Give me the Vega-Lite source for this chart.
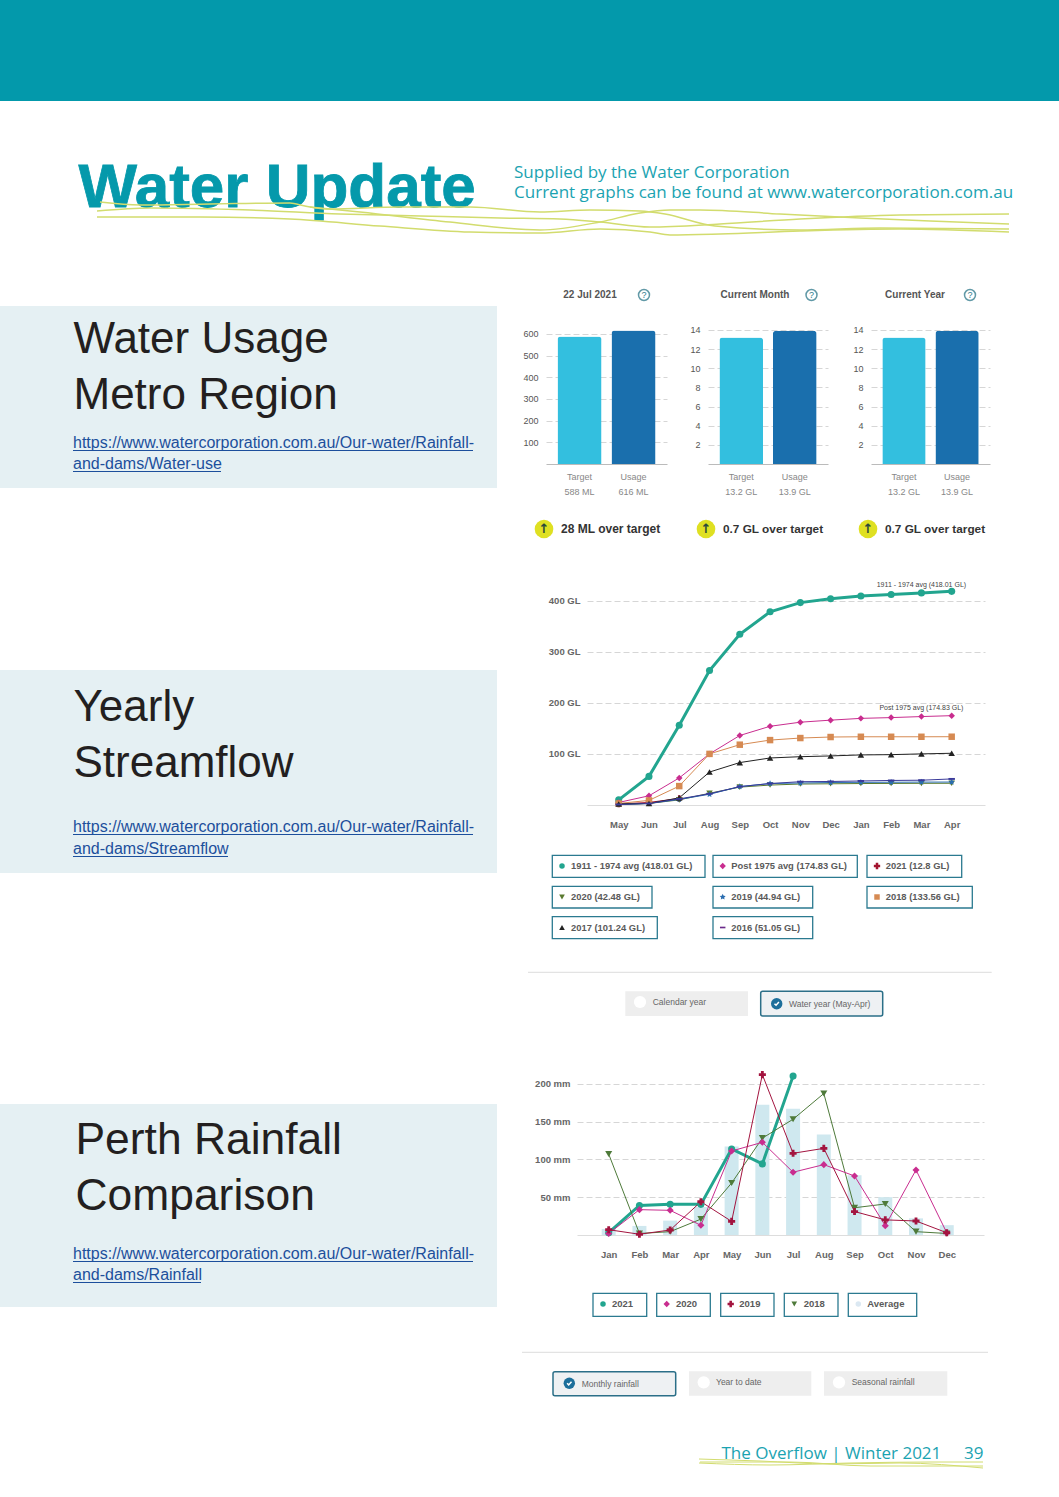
{"$schema":"https://vega.github.io/schema/vega-lite/v6.json","padding":0,"spacing":0,"background":"#ffffff","resolve":{"scale":{"color":"independent","shape":"independent"}},"config":{"font":"Liberation Sans","view":{"stroke":null},"axis":{"ticks":false,"domain":false,"labelFont":"Liberation Sans"},"axisY":{"grid":true,"gridDash":[6,3],"gridColor":"#d6d6d6"},"axisX":{"grid":false,"domain":true,"labelAngle":0}},"vconcat":[
{"width":1059,"height":101,"view":{"fill":"#0399ab"},"data":{"values":[{}]},"mark":{"type":"text","text":""}},
{"width":1059,"height":180,"data":{"values":[{}]},"layer":[
{"mark":{"type":"text","text":"Water Update","align":"left","baseline":"alphabetic","fontSize":62,"fontWeight":"bold","color":"#0599ab","stroke":"#0599ab","strokeWidth":0.8},"encoding":{"x":{"datum":78.5,"scale":{"domain":[0,1059]},"axis":null},"y":{"datum":207,"scale":{"domain":[281,101]},"axis":null}}},
{"data":{"values":[
{"strand":"a","x":100,"y":202},{"strand":"a","x":140,"y":205},{"strand":"a","x":210,"y":204},{"strand":"a","x":290,"y":203},{"strand":"a","x":305,"y":206},{"strand":"a","x":330,"y":209},{"strand":"a","x":400,"y":207},{"strand":"a","x":470,"y":207},{"strand":"a","x":540,"y":212},{"strand":"a","x":590,"y":210},{"strand":"a","x":640,"y":211},{"strand":"a","x":665,"y":214},{"strand":"a","x":715,"y":226},{"strand":"a","x":800,"y":230},{"strand":"a","x":880,"y":228},{"strand":"a","x":1009,"y":229},
{"strand":"b","x":97,"y":211},{"strand":"b","x":150,"y":208},{"strand":"b","x":250,"y":210},{"strand":"b","x":340,"y":214},{"strand":"b","x":420,"y":216},{"strand":"b","x":500,"y":218},{"strand":"b","x":560,"y":219},{"strand":"b","x":600,"y":222},{"strand":"b","x":650,"y":227},{"strand":"b","x":720,"y":224},{"strand":"b","x":800,"y":219},{"strand":"b","x":900,"y":215},{"strand":"b","x":1009,"y":214},
{"strand":"c","x":97,"y":217},{"strand":"c","x":200,"y":217},{"strand":"c","x":290,"y":219},{"strand":"c","x":380,"y":226},{"strand":"c","x":470,"y":232},{"strand":"c","x":540,"y":233},{"strand":"c","x":600,"y":229},{"strand":"c","x":650,"y":232},{"strand":"c","x":670,"y":235},{"strand":"c","x":720,"y":234},{"strand":"c","x":800,"y":231},{"strand":"c","x":900,"y":229},{"strand":"c","x":1009,"y":232},
{"strand":"d","x":310,"y":207},{"strand":"d","x":360,"y":212},{"strand":"d","x":450,"y":222},{"strand":"d","x":540,"y":230},{"strand":"d","x":600,"y":222},{"strand":"d","x":640,"y":213},{"strand":"d","x":670,"y":210},{"strand":"d","x":700,"y":210},{"strand":"d","x":780,"y":214},{"strand":"d","x":860,"y":218},{"strand":"d","x":930,"y":221},{"strand":"d","x":1009,"y":224}]},
"mark":{"type":"line","color":"#d2dc6e","strokeWidth":1.5,"interpolate":"monotone"},"encoding":{"x":{"field":"x","type":"quantitative","scale":{"domain":[0,1059]},"axis":null},"y":{"field":"y","type":"quantitative","scale":{"domain":[281,101]},"axis":null},"detail":{"field":"strand"}}},
{"mark":{"type":"text","text":["Supplied by the Water Corporation","Current graphs can be found at www.watercorporation.com.au"],"lineHeight":20,"align":"left","baseline":"middle","font":"Open Sans","fontSize":17.05,"color":"#1ba3b1"},"encoding":{"x":{"datum":514,"scale":{"domain":[0,1059]},"axis":null},"y":{"datum":172.5,"scale":{"domain":[281,101]},"axis":null}}}]},
{"resolve":{"scale":{"color":"independent","shape":"independent"}},"hconcat":[
{"width":497,"height":1216,"data":{"values":[{}]},"layer":[
{"mark":{"type":"rect","fill":"#e5f0f3"},"encoding":{"x":{"datum":0,"scale":{"domain":[0,497]},"axis":null},"x2":{"datum":497},"y":{"datum":306,"scale":{"domain":[1497,281]},"axis":null},"y2":{"datum":488}}},
{"mark":{"type":"rect","fill":"#e5f0f3"},"encoding":{"x":{"datum":0,"scale":{"domain":[0,497]},"axis":null},"x2":{"datum":497},"y":{"datum":670,"scale":{"domain":[1497,281]},"axis":null},"y2":{"datum":873}}},
{"mark":{"type":"rect","fill":"#e5f0f3"},"encoding":{"x":{"datum":0,"scale":{"domain":[0,497]},"axis":null},"x2":{"datum":497},"y":{"datum":1104,"scale":{"domain":[1497,281]},"axis":null},"y2":{"datum":1307}}},
{"mark":{"type":"text","text":"Water Usage","align":"left","baseline":"middle","fontSize":44,"color":"#231f20"},"encoding":{"x":{"datum":73.5,"scale":{"domain":[0,497]},"axis":null},"y":{"datum":340,"scale":{"domain":[1497,281]},"axis":null}}},
{"mark":{"type":"text","text":"Metro Region","align":"left","baseline":"middle","fontSize":44,"color":"#231f20"},"encoding":{"x":{"datum":73.5,"scale":{"domain":[0,497]},"axis":null},"y":{"datum":396,"scale":{"domain":[1497,281]},"axis":null}}},
{"mark":{"type":"text","text":"https://www.watercorporation.com.au/Our-water/Rainfall-","align":"left","baseline":"middle","fontSize":16,"color":"#1c4f9c"},"encoding":{"x":{"datum":73,"scale":{"domain":[0,497]},"axis":null},"y":{"datum":443,"scale":{"domain":[1497,281]},"axis":null}}},
{"mark":{"type":"text","text":"and-dams/Water-use","align":"left","baseline":"middle","fontSize":16,"color":"#1c4f9c"},"encoding":{"x":{"datum":73,"scale":{"domain":[0,497]},"axis":null},"y":{"datum":464,"scale":{"domain":[1497,281]},"axis":null}}},
{"mark":{"type":"rule","color":"#1c4f9c","strokeWidth":1},"encoding":{"x":{"datum":73,"scale":{"domain":[0,497]},"axis":null},"x2":{"datum":473},"y":{"datum":450.5,"scale":{"domain":[1497,281]},"axis":null}}},
{"mark":{"type":"rule","color":"#1c4f9c","strokeWidth":1},"encoding":{"x":{"datum":73,"scale":{"domain":[0,497]},"axis":null},"x2":{"datum":221},"y":{"datum":471.5,"scale":{"domain":[1497,281]},"axis":null}}},
{"mark":{"type":"text","text":"Yearly","align":"left","baseline":"middle","fontSize":44,"color":"#231f20"},"encoding":{"x":{"datum":73.5,"scale":{"domain":[0,497]},"axis":null},"y":{"datum":708,"scale":{"domain":[1497,281]},"axis":null}}},
{"mark":{"type":"text","text":"Streamflow","align":"left","baseline":"middle","fontSize":44,"color":"#231f20"},"encoding":{"x":{"datum":73.5,"scale":{"domain":[0,497]},"axis":null},"y":{"datum":764,"scale":{"domain":[1497,281]},"axis":null}}},
{"mark":{"type":"text","text":"https://www.watercorporation.com.au/Our-water/Rainfall-","align":"left","baseline":"middle","fontSize":16,"color":"#1c4f9c"},"encoding":{"x":{"datum":73,"scale":{"domain":[0,497]},"axis":null},"y":{"datum":827,"scale":{"domain":[1497,281]},"axis":null}}},
{"mark":{"type":"text","text":"and-dams/Streamflow","align":"left","baseline":"middle","fontSize":16,"color":"#1c4f9c"},"encoding":{"x":{"datum":73,"scale":{"domain":[0,497]},"axis":null},"y":{"datum":849,"scale":{"domain":[1497,281]},"axis":null}}},
{"mark":{"type":"rule","color":"#1c4f9c","strokeWidth":1},"encoding":{"x":{"datum":73,"scale":{"domain":[0,497]},"axis":null},"x2":{"datum":473},"y":{"datum":834.5,"scale":{"domain":[1497,281]},"axis":null}}},
{"mark":{"type":"rule","color":"#1c4f9c","strokeWidth":1},"encoding":{"x":{"datum":73,"scale":{"domain":[0,497]},"axis":null},"x2":{"datum":228},"y":{"datum":856.5,"scale":{"domain":[1497,281]},"axis":null}}},
{"mark":{"type":"text","text":"Perth Rainfall","align":"left","baseline":"middle","fontSize":44.4,"color":"#231f20"},"encoding":{"x":{"datum":75.5,"scale":{"domain":[0,497]},"axis":null},"y":{"datum":1141,"scale":{"domain":[1497,281]},"axis":null}}},
{"mark":{"type":"text","text":"Comparison","align":"left","baseline":"middle","fontSize":44.4,"color":"#231f20"},"encoding":{"x":{"datum":75.5,"scale":{"domain":[0,497]},"axis":null},"y":{"datum":1197,"scale":{"domain":[1497,281]},"axis":null}}},
{"mark":{"type":"text","text":"https://www.watercorporation.com.au/Our-water/Rainfall-","align":"left","baseline":"middle","fontSize":16,"color":"#1c4f9c"},"encoding":{"x":{"datum":73,"scale":{"domain":[0,497]},"axis":null},"y":{"datum":1254,"scale":{"domain":[1497,281]},"axis":null}}},
{"mark":{"type":"text","text":"and-dams/Rainfall","align":"left","baseline":"middle","fontSize":16,"color":"#1c4f9c"},"encoding":{"x":{"datum":73,"scale":{"domain":[0,497]},"axis":null},"y":{"datum":1275,"scale":{"domain":[1497,281]},"axis":null}}},
{"mark":{"type":"rule","color":"#1c4f9c","strokeWidth":1},"encoding":{"x":{"datum":73,"scale":{"domain":[0,497]},"axis":null},"x2":{"datum":473},"y":{"datum":1261.5,"scale":{"domain":[1497,281]},"axis":null}}},
{"mark":{"type":"rule","color":"#1c4f9c","strokeWidth":1},"encoding":{"x":{"datum":73,"scale":{"domain":[0,497]},"axis":null},"x2":{"datum":201},"y":{"datum":1282.5,"scale":{"domain":[1497,281]},"axis":null}}}]},
{"resolve":{"scale":{"color":"independent","shape":"independent"}},"vconcat":[
{"width":562,"height":39,"data":{"values":[{}]},"layer":[
{"mark":{"type":"text","text":"22 Jul 2021","fontSize":10,"fontWeight":"bold","color":"#555555","baseline":"middle"},"encoding":{"x":{"datum":590,"scale":{"domain":[497,1059]},"axis":null},"y":{"datum":294.5,"scale":{"domain":[320,281]},"axis":null}}},
{"mark":{"type":"text","text":"Current Month","fontSize":10,"fontWeight":"bold","color":"#555555","baseline":"middle"},"encoding":{"x":{"datum":755,"scale":{"domain":[497,1059]},"axis":null},"y":{"datum":294.5,"scale":{"domain":[320,281]},"axis":null}}},
{"mark":{"type":"text","text":"Current Year","fontSize":10,"fontWeight":"bold","color":"#555555","baseline":"middle"},"encoding":{"x":{"datum":915,"scale":{"domain":[497,1059]},"axis":null},"y":{"datum":294.5,"scale":{"domain":[320,281]},"axis":null}}},
{"mark":{"type":"point","shape":"circle","size":120,"stroke":"#1f6f82","strokeWidth":1.5,"fill":"#ffffff"},"encoding":{"x":{"datum":644,"scale":{"domain":[497,1059]},"axis":null},"y":{"datum":295,"scale":{"domain":[320,281]},"axis":null}}},
{"mark":{"type":"point","shape":"circle","size":120,"stroke":"#1f6f82","strokeWidth":1.5,"fill":"#ffffff"},"encoding":{"x":{"datum":811.5,"scale":{"domain":[497,1059]},"axis":null},"y":{"datum":295,"scale":{"domain":[320,281]},"axis":null}}},
{"mark":{"type":"point","shape":"circle","size":120,"stroke":"#1f6f82","strokeWidth":1.5,"fill":"#ffffff"},"encoding":{"x":{"datum":970,"scale":{"domain":[497,1059]},"axis":null},"y":{"datum":295,"scale":{"domain":[320,281]},"axis":null}}},
{"mark":{"type":"text","text":"?","fontSize":9,"color":"#2d7b8c","baseline":"middle"},"encoding":{"x":{"datum":644,"scale":{"domain":[497,1059]},"axis":null},"y":{"datum":295,"scale":{"domain":[320,281]},"axis":null}}},
{"mark":{"type":"text","text":"?","fontSize":9,"color":"#2d7b8c","baseline":"middle"},"encoding":{"x":{"datum":811.5,"scale":{"domain":[497,1059]},"axis":null},"y":{"datum":295,"scale":{"domain":[320,281]},"axis":null}}},
{"mark":{"type":"text","text":"?","fontSize":9,"color":"#2d7b8c","baseline":"middle"},"encoding":{"x":{"datum":970,"scale":{"domain":[497,1059]},"axis":null},"y":{"datum":295,"scale":{"domain":[320,281]},"axis":null}}}]},
{"resolve":{"scale":{"color":"independent"}},"hconcat":[
{"width":49,"height":100,"data":{"values":[{}]},"mark":{"type":"text","text":""}},
{"width":121,"height":185,"data":{"values":[{"bar":"Target|588 ML","kind":"Target","value":588},{"bar":"Usage|616 ML","kind":"Usage","value":616}]},"mark":{"type":"bar","cornerRadiusTopLeft":3,"cornerRadiusTopRight":3},"encoding":{"x":{"field":"bar","type":"nominal","sort":null,"title":null,"scale":{"paddingInner":0.185,"paddingOuter":0.213},"axis":{"offset":-41,"labelExpr":"split(datum.label,'|')","labelLineHeight":15,"labelFontSize":9,"labelColor":"#888888","labelPadding":8,"domainColor":"#bbbbbb"}},"y":{"field":"value","type":"quantitative","title":null,"scale":{"domain":[0,664.6],"range":[144,0]},"axis":{"values":[100,200,300,400,500,600],"labelFontSize":9,"labelColor":"#555555","labelPadding":8}},"color":{"field":"kind","type":"nominal","scale":{"domain":["Target","Usage"],"range":["#33bfdf","#1a6fad"]},"legend":null}}},
{"width":41,"height":100,"data":{"values":[{}]},"mark":{"type":"text","text":""}},
{"width":120,"height":185,"data":{"values":[{"bar":"Target|13.2 GL","kind":"Target","value":13.2},{"bar":"Usage|13.9 GL","kind":"Usage","value":13.9}]},"mark":{"type":"bar","cornerRadiusTopLeft":3,"cornerRadiusTopRight":3},"encoding":{"x":{"field":"bar","type":"nominal","sort":null,"title":null,"scale":{"paddingInner":0.185,"paddingOuter":0.213},"axis":{"offset":-41,"labelExpr":"split(datum.label,'|')","labelLineHeight":15,"labelFontSize":9,"labelColor":"#888888","labelPadding":8,"domainColor":"#bbbbbb"}},"y":{"field":"value","type":"quantitative","title":null,"scale":{"domain":[0,15.03],"range":[144,0]},"axis":{"values":[2,4,6,8,10,12,14],"labelFontSize":9,"labelColor":"#555555","labelPadding":8}},"color":{"field":"kind","type":"nominal","scale":{"domain":["Target","Usage"],"range":["#33bfdf","#1a6fad"]},"legend":null}}},
{"width":43,"height":100,"data":{"values":[{}]},"mark":{"type":"text","text":""}},
{"width":119,"height":185,"data":{"values":[{"bar":"Target|13.2 GL","kind":"Target","value":13.2},{"bar":"Usage|13.9 GL","kind":"Usage","value":13.9}]},"mark":{"type":"bar","cornerRadiusTopLeft":3,"cornerRadiusTopRight":3},"encoding":{"x":{"field":"bar","type":"nominal","sort":null,"title":null,"scale":{"paddingInner":0.185,"paddingOuter":0.213},"axis":{"offset":-41,"labelExpr":"split(datum.label,'|')","labelLineHeight":15,"labelFontSize":9,"labelColor":"#888888","labelPadding":8,"domainColor":"#bbbbbb"}},"y":{"field":"value","type":"quantitative","title":null,"scale":{"domain":[0,15.03],"range":[144,0]},"axis":{"values":[2,4,6,8,10,12,14],"labelFontSize":9,"labelColor":"#555555","labelPadding":8}},"color":{"field":"kind","type":"nominal","scale":{"domain":["Target","Usage"],"range":["#33bfdf","#1a6fad"]},"legend":null}}}
],"spacing":0,"bounds":"flush"},
{"width":562,"height":70,"data":{"values":[{}]},"layer":[
{"mark":{"type":"point","shape":"circle","size":346,"filled":true,"color":"#dfe022","opacity":1},"encoding":{"x":{"datum":544,"scale":{"domain":[497,1059]},"axis":null},"y":{"datum":529,"scale":{"domain":[575,505]},"axis":null}}},
{"mark":{"type":"point","shape":"circle","size":346,"filled":true,"color":"#dfe022","opacity":1},"encoding":{"x":{"datum":706,"scale":{"domain":[497,1059]},"axis":null},"y":{"datum":529,"scale":{"domain":[575,505]},"axis":null}}},
{"mark":{"type":"point","shape":"circle","size":346,"filled":true,"color":"#dfe022","opacity":1},"encoding":{"x":{"datum":868,"scale":{"domain":[497,1059]},"axis":null},"y":{"datum":529,"scale":{"domain":[575,505]},"axis":null}}},
{"mark":{"type":"text","text":"↑","font":"DejaVu Sans","fontSize":13,"fontWeight":"bold","color":"#2b4a3a","baseline":"middle"},"encoding":{"x":{"datum":544,"scale":{"domain":[497,1059]},"axis":null},"y":{"datum":529,"scale":{"domain":[575,505]},"axis":null}}},
{"mark":{"type":"text","text":"↑","font":"DejaVu Sans","fontSize":13,"fontWeight":"bold","color":"#2b4a3a","baseline":"middle"},"encoding":{"x":{"datum":706,"scale":{"domain":[497,1059]},"axis":null},"y":{"datum":529,"scale":{"domain":[575,505]},"axis":null}}},
{"mark":{"type":"text","text":"↑","font":"DejaVu Sans","fontSize":13,"fontWeight":"bold","color":"#2b4a3a","baseline":"middle"},"encoding":{"x":{"datum":868,"scale":{"domain":[497,1059]},"axis":null},"y":{"datum":529,"scale":{"domain":[575,505]},"axis":null}}},
{"mark":{"type":"text","text":"28 ML over target","align":"left","baseline":"middle","fontSize":12,"fontWeight":"bold","color":"#333333"},"encoding":{"x":{"datum":561,"scale":{"domain":[497,1059]},"axis":null},"y":{"datum":529,"scale":{"domain":[575,505]},"axis":null}}},
{"mark":{"type":"text","text":"0.7 GL over target","align":"left","baseline":"middle","fontSize":11.8,"fontWeight":"bold","color":"#333333"},"encoding":{"x":{"datum":723,"scale":{"domain":[497,1059]},"axis":null},"y":{"datum":529,"scale":{"domain":[575,505]},"axis":null}}},
{"mark":{"type":"text","text":"0.7 GL over target","align":"left","baseline":"middle","fontSize":11.8,"fontWeight":"bold","color":"#333333"},"encoding":{"x":{"datum":885,"scale":{"domain":[497,1059]},"axis":null},"y":{"datum":529,"scale":{"domain":[575,505]},"axis":null}}}]},
{"resolve":{"scale":{"color":"independent","shape":"independent"}},"hconcat":[
{"width":90,"height":100,"data":{"values":[{}]},"mark":{"type":"text","text":""}},
{"width":398,"height":260,"data":{"values":[
{"month":"May","series":"1911 - 1974 avg","value":10},{"month":"Jun","series":"1911 - 1974 avg","value":56},{"month":"Jul","series":"1911 - 1974 avg","value":156},{"month":"Aug","series":"1911 - 1974 avg","value":263},{"month":"Sep","series":"1911 - 1974 avg","value":334},{"month":"Oct","series":"1911 - 1974 avg","value":378},{"month":"Nov","series":"1911 - 1974 avg","value":396},{"month":"Dec","series":"1911 - 1974 avg","value":403.5},{"month":"Jan","series":"1911 - 1974 avg","value":409},{"month":"Feb","series":"1911 - 1974 avg","value":412},{"month":"Mar","series":"1911 - 1974 avg","value":415},{"month":"Apr","series":"1911 - 1974 avg","value":418},
{"month":"May","series":"Post 1975 avg","value":5},{"month":"Jun","series":"Post 1975 avg","value":18},{"month":"Jul","series":"Post 1975 avg","value":53},{"month":"Aug","series":"Post 1975 avg","value":100},{"month":"Sep","series":"Post 1975 avg","value":136},{"month":"Oct","series":"Post 1975 avg","value":154},{"month":"Nov","series":"Post 1975 avg","value":162},{"month":"Dec","series":"Post 1975 avg","value":166},{"month":"Jan","series":"Post 1975 avg","value":169.5},{"month":"Feb","series":"Post 1975 avg","value":171},{"month":"Mar","series":"Post 1975 avg","value":173},{"month":"Apr","series":"Post 1975 avg","value":174.8},
{"month":"May","series":"2021","value":2},{"month":"Jun","series":"2021","value":5},{"month":"Jul","series":"2021","value":12.8},
{"month":"May","series":"2020","value":1},{"month":"Jun","series":"2020","value":3},{"month":"Jul","series":"2020","value":10},{"month":"Aug","series":"2020","value":23},{"month":"Sep","series":"2020","value":35},{"month":"Oct","series":"2020","value":39},{"month":"Nov","series":"2020","value":41},{"month":"Dec","series":"2020","value":41.5},{"month":"Jan","series":"2020","value":42},{"month":"Feb","series":"2020","value":42.2},{"month":"Mar","series":"2020","value":42.4},{"month":"Apr","series":"2020","value":42.5},
{"month":"May","series":"2019","value":1},{"month":"Jun","series":"2019","value":3},{"month":"Jul","series":"2019","value":11},{"month":"Aug","series":"2019","value":21},{"month":"Sep","series":"2019","value":36},{"month":"Oct","series":"2019","value":42},{"month":"Nov","series":"2019","value":43},{"month":"Dec","series":"2019","value":44},{"month":"Jan","series":"2019","value":44.3},{"month":"Feb","series":"2019","value":44.5},{"month":"Mar","series":"2019","value":44.8},{"month":"Apr","series":"2019","value":44.9},
{"month":"May","series":"2018","value":3},{"month":"Jun","series":"2018","value":9},{"month":"Jul","series":"2018","value":37},{"month":"Aug","series":"2018","value":100},{"month":"Sep","series":"2018","value":118},{"month":"Oct","series":"2018","value":127},{"month":"Nov","series":"2018","value":131},{"month":"Dec","series":"2018","value":133},{"month":"Jan","series":"2018","value":133.5},{"month":"Feb","series":"2018","value":133.5},{"month":"Mar","series":"2018","value":133.5},{"month":"Apr","series":"2018","value":133.6},
{"month":"May","series":"2017","value":2},{"month":"Jun","series":"2017","value":3},{"month":"Jul","series":"2017","value":14},{"month":"Aug","series":"2017","value":64.5},{"month":"Sep","series":"2017","value":83},{"month":"Oct","series":"2017","value":92},{"month":"Nov","series":"2017","value":94.5},{"month":"Dec","series":"2017","value":96},{"month":"Jan","series":"2017","value":98},{"month":"Feb","series":"2017","value":98.5},{"month":"Mar","series":"2017","value":100},{"month":"Apr","series":"2017","value":101.2},
{"month":"May","series":"2016","value":1},{"month":"Jun","series":"2016","value":3},{"month":"Jul","series":"2016","value":12},{"month":"Aug","series":"2016","value":22},{"month":"Sep","series":"2016","value":36},{"month":"Oct","series":"2016","value":42},{"month":"Nov","series":"2016","value":45.6},{"month":"Dec","series":"2016","value":46},{"month":"Jan","series":"2016","value":47},{"month":"Feb","series":"2016","value":48},{"month":"Mar","series":"2016","value":48.5},{"month":"Apr","series":"2016","value":51}]},
"encoding":{"x":{"field":"month","type":"nominal","title":null,"sort":["May","Jun","Jul","Aug","Sep","Oct","Nov","Dec","Jan","Feb","Mar","Apr"],"scale":{"type":"point","domain":["start","May","Jun","Jul","Aug","Sep","Oct","Nov","Dec","Jan","Feb","Mar","Apr","end"],"padding":0.074,"align":0.32},"axis":{"values":["May","Jun","Jul","Aug","Sep","Oct","Nov","Dec","Jan","Feb","Mar","Apr"],"offset":-30,"labelFontSize":9.5,"labelFontWeight":"bold","labelColor":"#666666","labelPadding":14,"domainColor":"#dddddd"}},"y":{"field":"value","type":"quantitative","title":null,"scale":{"domain":[0,450],"range":[230,0]},"axis":{"values":[100,200,300,400],"labelExpr":"datum.value+' GL'","labelFontSize":9.5,"labelFontWeight":"bold","labelColor":"#666666","labelPadding":7}}},
"layer":[
{"mark":{"type":"line"},"encoding":{"color":{"field":"series","type":"nominal","legend":null,"scale":{"domain":["1911 - 1974 avg","Post 1975 avg","2021","2020","2019","2018","2017","2016"],"range":["#22a58f","#c92d8f","#a3142f","#5a7a30","#2a6db0","#d68a52","#222222","#3a3a9a"]}},"strokeWidth":{"condition":{"test":"datum.series==='1911 - 1974 avg'","value":3},"value":1}}},
{"mark":{"type":"point","filled":true,"opacity":1},"encoding":{"color":{"field":"series","type":"nominal","legend":null,"scale":{"domain":["1911 - 1974 avg","Post 1975 avg","2021","2020","2019","2018","2017","2016"],"range":["#22a58f","#c92d8f","#a3142f","#5a7a30","#2a6db0","#d68a52","#222222","#3a3a9a"]}},"shape":{"field":"series","type":"nominal","legend":null,"scale":{"domain":["1911 - 1974 avg","Post 1975 avg","2021","2020","2019","2018","2017","2016"],"range":["circle","diamond","cross","triangle-down","M0,-1L0.294,-0.405L0.951,-0.309L0.476,0.155L0.588,0.809L0,0.5L-0.588,0.809L-0.476,0.155L-0.951,-0.309L-0.294,-0.405Z","square","triangle-up","M-1,-0.3H1V0.3H-1Z"]}},"size":{"condition":{"test":"datum.series==='1911 - 1974 avg'","value":50},"value":42}}},
{"data":{"values":[{"month":"Mar","value":431,"note":"1911 - 1974 avg (418.01 GL)"},{"month":"Mar","value":190,"note":"Post 1975 avg (174.83 GL)"}]},"mark":{"type":"text","fontSize":7,"color":"#444444","baseline":"middle"},"encoding":{"text":{"field":"note"}}}]}
],"spacing":0,"bounds":"flush"},
{"width":562,"height":230,"data":{"values":[{}]},"layer":[
{"mark":{"type":"rect","fill":"#ffffff","stroke":"#2b7a90","strokeWidth":1.3},"encoding":{"x":{"datum":552.3,"scale":{"domain":[497,1059]},"axis":null},"x2":{"datum":705},"y":{"datum":855.3,"scale":{"domain":[1065,835]},"axis":null},"y2":{"datum":877.3}}},
{"mark":{"type":"rect","fill":"#ffffff","stroke":"#2b7a90","strokeWidth":1.3},"encoding":{"x":{"datum":713,"scale":{"domain":[497,1059]},"axis":null},"x2":{"datum":857.3},"y":{"datum":855.3,"scale":{"domain":[1065,835]},"axis":null},"y2":{"datum":877.3}}},
{"mark":{"type":"rect","fill":"#ffffff","stroke":"#2b7a90","strokeWidth":1.3},"encoding":{"x":{"datum":867,"scale":{"domain":[497,1059]},"axis":null},"x2":{"datum":961.7},"y":{"datum":855.3,"scale":{"domain":[1065,835]},"axis":null},"y2":{"datum":877.3}}},
{"mark":{"type":"rect","fill":"#ffffff","stroke":"#2b7a90","strokeWidth":1.3},"encoding":{"x":{"datum":552.3,"scale":{"domain":[497,1059]},"axis":null},"x2":{"datum":652},"y":{"datum":886.3,"scale":{"domain":[1065,835]},"axis":null},"y2":{"datum":908}}},
{"mark":{"type":"rect","fill":"#ffffff","stroke":"#2b7a90","strokeWidth":1.3},"encoding":{"x":{"datum":713,"scale":{"domain":[497,1059]},"axis":null},"x2":{"datum":812.7},"y":{"datum":886.3,"scale":{"domain":[1065,835]},"axis":null},"y2":{"datum":908}}},
{"mark":{"type":"rect","fill":"#ffffff","stroke":"#2b7a90","strokeWidth":1.3},"encoding":{"x":{"datum":867,"scale":{"domain":[497,1059]},"axis":null},"x2":{"datum":972.3},"y":{"datum":886.3,"scale":{"domain":[1065,835]},"axis":null},"y2":{"datum":908}}},
{"mark":{"type":"rect","fill":"#ffffff","stroke":"#2b7a90","strokeWidth":1.3},"encoding":{"x":{"datum":552.3,"scale":{"domain":[497,1059]},"axis":null},"x2":{"datum":657.3},"y":{"datum":916.7,"scale":{"domain":[1065,835]},"axis":null},"y2":{"datum":938.7}}},
{"mark":{"type":"rect","fill":"#ffffff","stroke":"#2b7a90","strokeWidth":1.3},"encoding":{"x":{"datum":713,"scale":{"domain":[497,1059]},"axis":null},"x2":{"datum":812.7},"y":{"datum":916.7,"scale":{"domain":[1065,835]},"axis":null},"y2":{"datum":938.7}}},
{"mark":{"type":"point","filled":true,"opacity":1,"shape":"circle","size":30,"color":"#22a58f"},"encoding":{"x":{"datum":562,"scale":{"domain":[497,1059]},"axis":null},"y":{"datum":866,"scale":{"domain":[1065,835]},"axis":null}}},
{"mark":{"type":"point","filled":true,"opacity":1,"shape":"diamond","size":40,"color":"#c92d8f"},"encoding":{"x":{"datum":722.7,"scale":{"domain":[497,1059]},"axis":null},"y":{"datum":866,"scale":{"domain":[1065,835]},"axis":null}}},
{"mark":{"type":"point","filled":true,"opacity":1,"shape":"cross","size":40,"color":"#a3142f"},"encoding":{"x":{"datum":877,"scale":{"domain":[497,1059]},"axis":null},"y":{"datum":866,"scale":{"domain":[1065,835]},"axis":null}}},
{"mark":{"type":"point","filled":true,"opacity":1,"shape":"triangle-down","size":32,"color":"#5a7a30"},"encoding":{"x":{"datum":562,"scale":{"domain":[497,1059]},"axis":null},"y":{"datum":897,"scale":{"domain":[1065,835]},"axis":null}}},
{"mark":{"type":"point","filled":true,"opacity":1,"shape":"M0,-1L0.294,-0.405L0.951,-0.309L0.476,0.155L0.588,0.809L0,0.5L-0.588,0.809L-0.476,0.155L-0.951,-0.309L-0.294,-0.405Z","size":40,"color":"#2a6db0"},"encoding":{"x":{"datum":722.7,"scale":{"domain":[497,1059]},"axis":null},"y":{"datum":897,"scale":{"domain":[1065,835]},"axis":null}}},
{"mark":{"type":"point","filled":true,"opacity":1,"shape":"square","size":30,"color":"#d68a52"},"encoding":{"x":{"datum":877,"scale":{"domain":[497,1059]},"axis":null},"y":{"datum":897,"scale":{"domain":[1065,835]},"axis":null}}},
{"mark":{"type":"point","filled":true,"opacity":1,"shape":"triangle-up","size":32,"color":"#222222"},"encoding":{"x":{"datum":562,"scale":{"domain":[497,1059]},"axis":null},"y":{"datum":927.5,"scale":{"domain":[1065,835]},"axis":null}}},
{"mark":{"type":"point","filled":true,"opacity":1,"shape":"M-1,-0.3H1V0.3H-1Z","size":30,"color":"#6a2a8a"},"encoding":{"x":{"datum":722.7,"scale":{"domain":[497,1059]},"axis":null},"y":{"datum":927.5,"scale":{"domain":[1065,835]},"axis":null}}},
{"mark":{"type":"text","text":"1911 - 1974 avg (418.01 GL)","align":"left","baseline":"middle","fontSize":9.4,"fontWeight":"bold","color":"#5a5a5a"},"encoding":{"x":{"datum":571,"scale":{"domain":[497,1059]},"axis":null},"y":{"datum":866,"scale":{"domain":[1065,835]},"axis":null}}},
{"mark":{"type":"text","text":"Post 1975 avg (174.83 GL)","align":"left","baseline":"middle","fontSize":9.4,"fontWeight":"bold","color":"#5a5a5a"},"encoding":{"x":{"datum":731.3,"scale":{"domain":[497,1059]},"axis":null},"y":{"datum":866,"scale":{"domain":[1065,835]},"axis":null}}},
{"mark":{"type":"text","text":"2021 (12.8 GL)","align":"left","baseline":"middle","fontSize":9.4,"fontWeight":"bold","color":"#5a5a5a"},"encoding":{"x":{"datum":885.7,"scale":{"domain":[497,1059]},"axis":null},"y":{"datum":866,"scale":{"domain":[1065,835]},"axis":null}}},
{"mark":{"type":"text","text":"2020 (42.48 GL)","align":"left","baseline":"middle","fontSize":9.4,"fontWeight":"bold","color":"#5a5a5a"},"encoding":{"x":{"datum":571,"scale":{"domain":[497,1059]},"axis":null},"y":{"datum":897,"scale":{"domain":[1065,835]},"axis":null}}},
{"mark":{"type":"text","text":"2019 (44.94 GL)","align":"left","baseline":"middle","fontSize":9.4,"fontWeight":"bold","color":"#5a5a5a"},"encoding":{"x":{"datum":731.3,"scale":{"domain":[497,1059]},"axis":null},"y":{"datum":897,"scale":{"domain":[1065,835]},"axis":null}}},
{"mark":{"type":"text","text":"2018 (133.56 GL)","align":"left","baseline":"middle","fontSize":9.4,"fontWeight":"bold","color":"#5a5a5a"},"encoding":{"x":{"datum":885.7,"scale":{"domain":[497,1059]},"axis":null},"y":{"datum":897,"scale":{"domain":[1065,835]},"axis":null}}},
{"mark":{"type":"text","text":"2017 (101.24 GL)","align":"left","baseline":"middle","fontSize":9.4,"fontWeight":"bold","color":"#5a5a5a"},"encoding":{"x":{"datum":571,"scale":{"domain":[497,1059]},"axis":null},"y":{"datum":927.5,"scale":{"domain":[1065,835]},"axis":null}}},
{"mark":{"type":"text","text":"2016 (51.05 GL)","align":"left","baseline":"middle","fontSize":9.4,"fontWeight":"bold","color":"#5a5a5a"},"encoding":{"x":{"datum":731.3,"scale":{"domain":[497,1059]},"axis":null},"y":{"datum":927.5,"scale":{"domain":[1065,835]},"axis":null}}},
{"mark":{"type":"rule","color":"#dddddd","strokeWidth":1},"encoding":{"x":{"datum":528,"scale":{"domain":[497,1059]},"axis":null},"x2":{"datum":991.7},"y":{"datum":972.3,"scale":{"domain":[1065,835]},"axis":null}}},
{"mark":{"type":"rect","fill":"#eeeeee"},"encoding":{"x":{"datum":625.3,"scale":{"domain":[497,1059]},"axis":null},"x2":{"datum":748},"y":{"datum":991.3,"scale":{"domain":[1065,835]},"axis":null},"y2":{"datum":1016}}},
{"mark":{"type":"point","filled":true,"opacity":1,"shape":"circle","size":150,"color":"#ffffff"},"encoding":{"x":{"datum":640,"scale":{"domain":[497,1059]},"axis":null},"y":{"datum":1002,"scale":{"domain":[1065,835]},"axis":null}}},
{"mark":{"type":"text","text":"Calendar year","align":"left","baseline":"middle","fontSize":8.5,"color":"#666666"},"encoding":{"x":{"datum":652.7,"scale":{"domain":[497,1059]},"axis":null},"y":{"datum":1002,"scale":{"domain":[1065,835]},"axis":null}}},
{"mark":{"type":"rect","fill":"#eef1f3","stroke":"#2b6f88","strokeWidth":1.5,"cornerRadius":2},"encoding":{"x":{"datum":760.7,"scale":{"domain":[497,1059]},"axis":null},"x2":{"datum":882.7},"y":{"datum":991.3,"scale":{"domain":[1065,835]},"axis":null},"y2":{"datum":1016}}},
{"mark":{"type":"point","filled":true,"opacity":1,"shape":"circle","size":130,"color":"#1c6f9b"},"encoding":{"x":{"datum":776.7,"scale":{"domain":[497,1059]},"axis":null},"y":{"datum":1003.7,"scale":{"domain":[1065,835]},"axis":null}}},
{"mark":{"type":"point","filled":false,"opacity":1,"shape":"M-0.7,0L-0.2,0.5L0.7,-0.5","size":40,"stroke":"#ffffff","strokeWidth":1.5},"encoding":{"x":{"datum":776.7,"scale":{"domain":[497,1059]},"axis":null},"y":{"datum":1003.7,"scale":{"domain":[1065,835]},"axis":null}}},
{"mark":{"type":"text","text":"Water year (May-Apr)","align":"left","baseline":"middle","fontSize":8.5,"color":"#666666"},"encoding":{"x":{"datum":789,"scale":{"domain":[497,1059]},"axis":null},"y":{"datum":1003.7,"scale":{"domain":[1065,835]},"axis":null}}}]},
{"resolve":{"scale":{"color":"independent","shape":"independent"}},"hconcat":[
{"width":80,"height":100,"data":{"values":[{}]},"mark":{"type":"text","text":""}},
{"width":407,"height":200,"data":{"values":[
{"month":"Jan","series":"Average","value":8},{"month":"Feb","series":"Average","value":12},{"month":"Mar","series":"Average","value":19},{"month":"Apr","series":"Average","value":37},{"month":"May","series":"Average","value":117},{"month":"Jun","series":"Average","value":172},{"month":"Jul","series":"Average","value":167},{"month":"Aug","series":"Average","value":133},{"month":"Sep","series":"Average","value":79},{"month":"Oct","series":"Average","value":50},{"month":"Nov","series":"Average","value":22},{"month":"Dec","series":"Average","value":13},
{"month":"Jan","series":"2021","value":3},{"month":"Feb","series":"2021","value":39},{"month":"Mar","series":"2021","value":40.5},{"month":"Apr","series":"2021","value":40.5},{"month":"May","series":"2021","value":113.7},{"month":"Jun","series":"2021","value":94},{"month":"Jul","series":"2021","value":210},
{"month":"Jan","series":"2018","value":107},{"month":"Feb","series":"2018","value":2},{"month":"Mar","series":"2018","value":4.4},{"month":"Apr","series":"2018","value":21},{"month":"May","series":"2018","value":68.7},{"month":"Jun","series":"2018","value":128},{"month":"Jul","series":"2018","value":153},{"month":"Aug","series":"2018","value":187},{"month":"Sep","series":"2018","value":36},{"month":"Oct","series":"2018","value":41},{"month":"Nov","series":"2018","value":4.4},{"month":"Dec","series":"2018","value":2},
{"month":"Jan","series":"2020","value":2},{"month":"Feb","series":"2020","value":33.5},{"month":"Mar","series":"2020","value":32.6},{"month":"Apr","series":"2020","value":12.8},{"month":"May","series":"2020","value":111},{"month":"Jun","series":"2020","value":122.5},{"month":"Jul","series":"2020","value":83},{"month":"Aug","series":"2020","value":93},{"month":"Sep","series":"2020","value":78},{"month":"Oct","series":"2020","value":12.3},{"month":"Nov","series":"2020","value":86},{"month":"Dec","series":"2020","value":3},
{"month":"Jan","series":"2019","value":7},{"month":"Feb","series":"2019","value":1},{"month":"Mar","series":"2019","value":6.6},{"month":"Apr","series":"2019","value":44},{"month":"May","series":"2019","value":18},{"month":"Jun","series":"2019","value":212},{"month":"Jul","series":"2019","value":108},{"month":"Aug","series":"2019","value":114.5},{"month":"Sep","series":"2019","value":31},{"month":"Oct","series":"2019","value":20},{"month":"Nov","series":"2019","value":18.5},{"month":"Dec","series":"2019","value":3}]},
"encoding":{"x":{"field":"month","type":"nominal","title":null,"sort":["Jan","Feb","Mar","Apr","May","Jun","Jul","Aug","Sep","Oct","Nov","Dec"],"scale":{"type":"point","domain":["start","Jan","Feb","Mar","Apr","May","Jun","Jul","Aug","Sep","Oct","Nov","Dec","end"],"padding":0.122,"align":0.129},"axis":{"values":["Jan","Feb","Mar","Apr","May","Jun","Jul","Aug","Sep","Oct","Nov","Dec"],"offset":-30,"labelFontSize":9.5,"labelFontWeight":"bold","labelColor":"#666666","labelPadding":14,"domainColor":"#dddddd"}},"y":{"field":"value","type":"quantitative","title":null,"scale":{"domain":[0,224.7],"range":[170,0]},"axis":{"values":[50,100,150,200],"labelExpr":"datum.value+' mm'","labelFontSize":9.5,"labelFontWeight":"bold","labelColor":"#666666","labelPadding":7}}},
"layer":[
{"transform":[{"filter":"datum.series==='Average'"}],"mark":{"type":"bar","width":14,"color":"#cfe8ef"}},
{"transform":[{"filter":"datum.series!=='Average'"}],"mark":{"type":"line"},"encoding":{"color":{"field":"series","type":"nominal","legend":null,"scale":{"domain":["2021","2020","2019","2018"],"range":["#22a58f","#c92d8f","#a3143f","#4e7a3a"]}},"strokeWidth":{"condition":{"test":"datum.series==='2021'","value":3},"value":1}}},
{"transform":[{"filter":"datum.series!=='Average'"}],"mark":{"type":"point","filled":true,"opacity":1},"encoding":{"color":{"field":"series","type":"nominal","legend":null,"scale":{"domain":["2021","2020","2019","2018"],"range":["#22a58f","#c92d8f","#a3143f","#4e7a3a"]}},"shape":{"field":"series","type":"nominal","legend":null,"scale":{"domain":["2021","2020","2019","2018"],"range":["circle","diamond","cross","triangle-down"]}},"size":{"value":50}}}]}
],"spacing":0,"bounds":"flush"},
{"width":562,"height":232,"data":{"values":[{}]},"layer":[
{"data":{"values":[{"strand":"a","x":699,"y":1459},{"strand":"a","x":760,"y":1461},{"strand":"a","x":830,"y":1464},{"strand":"a","x":900,"y":1463},{"strand":"a","x":983,"y":1468},{"strand":"b","x":699,"y":1463},{"strand":"b","x":770,"y":1465},{"strand":"b","x":850,"y":1463},{"strand":"b","x":930,"y":1462},{"strand":"b","x":983,"y":1462},{"strand":"c","x":700,"y":1462},{"strand":"c","x":790,"y":1462},{"strand":"c","x":870,"y":1466},{"strand":"c","x":983,"y":1466}]},"mark":{"type":"line","color":"#d2dc6e","strokeWidth":1,"interpolate":"monotone"},"encoding":{"x":{"field":"x","type":"quantitative","scale":{"domain":[497,1059]},"axis":null},"y":{"field":"y","type":"quantitative","scale":{"domain":[1497,1265]},"axis":null},"detail":{"field":"strand"}}},
{"mark":{"type":"text","text":"The Overflow  |  Winter 2021","align":"left","baseline":"middle","font":"Open Sans","fontSize":17,"color":"#1ba3b1"},"encoding":{"x":{"datum":721.5,"scale":{"domain":[497,1059]},"axis":null},"y":{"datum":1454,"scale":{"domain":[1497,1265]},"axis":null}}},
{"mark":{"type":"text","text":"39","align":"left","baseline":"middle","font":"Open Sans","fontSize":17,"color":"#1ba3b1"},"encoding":{"x":{"datum":964,"scale":{"domain":[497,1059]},"axis":null},"y":{"datum":1454,"scale":{"domain":[1497,1265]},"axis":null}}},
{"mark":{"type":"rect","fill":"#ffffff","stroke":"#2b7a90","strokeWidth":1.3},"encoding":{"x":{"datum":593,"scale":{"domain":[497,1059]},"axis":null},"x2":{"datum":646.7},"y":{"datum":1293.3,"scale":{"domain":[1497,1265]},"axis":null},"y2":{"datum":1316.3}}},
{"mark":{"type":"rect","fill":"#ffffff","stroke":"#2b7a90","strokeWidth":1.3},"encoding":{"x":{"datum":656.7,"scale":{"domain":[497,1059]},"axis":null},"x2":{"datum":710.3},"y":{"datum":1293.3,"scale":{"domain":[1497,1265]},"axis":null},"y2":{"datum":1316.3}}},
{"mark":{"type":"rect","fill":"#ffffff","stroke":"#2b7a90","strokeWidth":1.3},"encoding":{"x":{"datum":720.7,"scale":{"domain":[497,1059]},"axis":null},"x2":{"datum":774},"y":{"datum":1293.3,"scale":{"domain":[1497,1265]},"axis":null},"y2":{"datum":1316.3}}},
{"mark":{"type":"rect","fill":"#ffffff","stroke":"#2b7a90","strokeWidth":1.3},"encoding":{"x":{"datum":784.3,"scale":{"domain":[497,1059]},"axis":null},"x2":{"datum":838},"y":{"datum":1293.3,"scale":{"domain":[1497,1265]},"axis":null},"y2":{"datum":1316.3}}},
{"mark":{"type":"rect","fill":"#ffffff","stroke":"#2b7a90","strokeWidth":1.3},"encoding":{"x":{"datum":848.3,"scale":{"domain":[497,1059]},"axis":null},"x2":{"datum":916.7},"y":{"datum":1293.3,"scale":{"domain":[1497,1265]},"axis":null},"y2":{"datum":1316.3}}},
{"mark":{"type":"point","filled":true,"opacity":1,"shape":"circle","size":30,"color":"#22a58f"},"encoding":{"x":{"datum":603,"scale":{"domain":[497,1059]},"axis":null},"y":{"datum":1304,"scale":{"domain":[1497,1265]},"axis":null}}},
{"mark":{"type":"point","filled":true,"opacity":1,"shape":"diamond","size":40,"color":"#c92d8f"},"encoding":{"x":{"datum":666.7,"scale":{"domain":[497,1059]},"axis":null},"y":{"datum":1304,"scale":{"domain":[1497,1265]},"axis":null}}},
{"mark":{"type":"point","filled":true,"opacity":1,"shape":"cross","size":40,"color":"#a3143f"},"encoding":{"x":{"datum":730.7,"scale":{"domain":[497,1059]},"axis":null},"y":{"datum":1304,"scale":{"domain":[1497,1265]},"axis":null}}},
{"mark":{"type":"point","filled":true,"opacity":1,"shape":"triangle-down","size":32,"color":"#4e7a3a"},"encoding":{"x":{"datum":794.3,"scale":{"domain":[497,1059]},"axis":null},"y":{"datum":1304,"scale":{"domain":[1497,1265]},"axis":null}}},
{"mark":{"type":"point","filled":true,"opacity":1,"shape":"circle","size":30,"color":"#dbe8f2"},"encoding":{"x":{"datum":858.3,"scale":{"domain":[497,1059]},"axis":null},"y":{"datum":1304,"scale":{"domain":[1497,1265]},"axis":null}}},
{"mark":{"type":"text","text":"2021","align":"left","baseline":"middle","fontSize":9.5,"fontWeight":"bold","color":"#5a5a5a"},"encoding":{"x":{"datum":612,"scale":{"domain":[497,1059]},"axis":null},"y":{"datum":1304,"scale":{"domain":[1497,1265]},"axis":null}}},
{"mark":{"type":"text","text":"2020","align":"left","baseline":"middle","fontSize":9.5,"fontWeight":"bold","color":"#5a5a5a"},"encoding":{"x":{"datum":676,"scale":{"domain":[497,1059]},"axis":null},"y":{"datum":1304,"scale":{"domain":[1497,1265]},"axis":null}}},
{"mark":{"type":"text","text":"2019","align":"left","baseline":"middle","fontSize":9.5,"fontWeight":"bold","color":"#5a5a5a"},"encoding":{"x":{"datum":739.3,"scale":{"domain":[497,1059]},"axis":null},"y":{"datum":1304,"scale":{"domain":[1497,1265]},"axis":null}}},
{"mark":{"type":"text","text":"2018","align":"left","baseline":"middle","fontSize":9.5,"fontWeight":"bold","color":"#5a5a5a"},"encoding":{"x":{"datum":803.7,"scale":{"domain":[497,1059]},"axis":null},"y":{"datum":1304,"scale":{"domain":[1497,1265]},"axis":null}}},
{"mark":{"type":"text","text":"Average","align":"left","baseline":"middle","fontSize":9.5,"fontWeight":"bold","color":"#5a5a5a"},"encoding":{"x":{"datum":867.3,"scale":{"domain":[497,1059]},"axis":null},"y":{"datum":1304,"scale":{"domain":[1497,1265]},"axis":null}}},
{"mark":{"type":"rule","color":"#dddddd","strokeWidth":1},"encoding":{"x":{"datum":522,"scale":{"domain":[497,1059]},"axis":null},"x2":{"datum":988},"y":{"datum":1352.3,"scale":{"domain":[1497,1265]},"axis":null}}},
{"mark":{"type":"rect","fill":"#eef1f3","stroke":"#2b6f88","strokeWidth":1.5,"cornerRadius":2},"encoding":{"x":{"datum":553,"scale":{"domain":[497,1059]},"axis":null},"x2":{"datum":675.7},"y":{"datum":1371.7,"scale":{"domain":[1497,1265]},"axis":null},"y2":{"datum":1395.7}}},
{"mark":{"type":"point","filled":true,"opacity":1,"shape":"circle","size":130,"color":"#1c6f9b"},"encoding":{"x":{"datum":569.3,"scale":{"domain":[497,1059]},"axis":null},"y":{"datum":1383.3,"scale":{"domain":[1497,1265]},"axis":null}}},
{"mark":{"type":"point","filled":false,"opacity":1,"shape":"M-0.7,0L-0.2,0.5L0.7,-0.5","size":40,"stroke":"#ffffff","strokeWidth":1.5},"encoding":{"x":{"datum":569.3,"scale":{"domain":[497,1059]},"axis":null},"y":{"datum":1383.3,"scale":{"domain":[1497,1265]},"axis":null}}},
{"mark":{"type":"text","text":"Monthly rainfall","align":"left","baseline":"middle","fontSize":8.5,"color":"#666666"},"encoding":{"x":{"datum":581.7,"scale":{"domain":[497,1059]},"axis":null},"y":{"datum":1383.5,"scale":{"domain":[1497,1265]},"axis":null}}},
{"mark":{"type":"rect","fill":"#eeeeee"},"encoding":{"x":{"datum":689,"scale":{"domain":[497,1059]},"axis":null},"x2":{"datum":811.3},"y":{"datum":1371.3,"scale":{"domain":[1497,1265]},"axis":null},"y2":{"datum":1395.7}}},
{"mark":{"type":"point","filled":true,"opacity":1,"shape":"circle","size":150,"color":"#ffffff"},"encoding":{"x":{"datum":703.7,"scale":{"domain":[497,1059]},"axis":null},"y":{"datum":1382.3,"scale":{"domain":[1497,1265]},"axis":null}}},
{"mark":{"type":"text","text":"Year to date","align":"left","baseline":"middle","fontSize":8.5,"color":"#666666"},"encoding":{"x":{"datum":716,"scale":{"domain":[497,1059]},"axis":null},"y":{"datum":1382.3,"scale":{"domain":[1497,1265]},"axis":null}}},
{"mark":{"type":"rect","fill":"#eeeeee"},"encoding":{"x":{"datum":824,"scale":{"domain":[497,1059]},"axis":null},"x2":{"datum":947.3},"y":{"datum":1371.3,"scale":{"domain":[1497,1265]},"axis":null},"y2":{"datum":1395.7}}},
{"mark":{"type":"point","filled":true,"opacity":1,"shape":"circle","size":150,"color":"#ffffff"},"encoding":{"x":{"datum":839,"scale":{"domain":[497,1059]},"axis":null},"y":{"datum":1382.3,"scale":{"domain":[1497,1265]},"axis":null}}},
{"mark":{"type":"text","text":"Seasonal rainfall","align":"left","baseline":"middle","fontSize":8.5,"color":"#666666"},"encoding":{"x":{"datum":851.7,"scale":{"domain":[497,1059]},"axis":null},"y":{"datum":1382.3,"scale":{"domain":[1497,1265]},"axis":null}}}]}
],"spacing":0}
],"spacing":0}
]}
